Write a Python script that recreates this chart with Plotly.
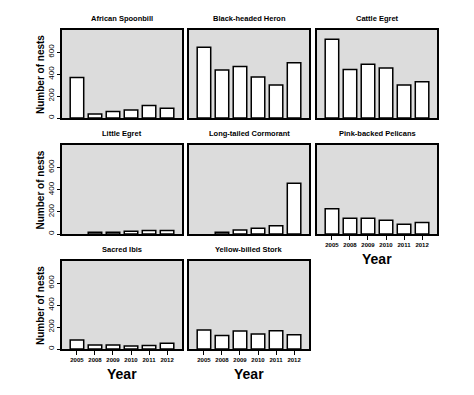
import plotly.graph_objects as go

W, H = 474, 395
OFF = 8  # page body margin offset

years = ["2005", "2008", "2009", "2010", "2011", "2012"]
species = ["African Spoonbill", "Black-headed Heron", "Cattle Egret",
           "Little Egret", "Long-tailed Cormorant", "Pink-backed Pelicans",
           "Sacred Ibis", "Yellow-billed Stork"]
african_spoonbill = [370, 36, 60, 73, 115, 88]
black_headed_heron = [645, 439, 469, 375, 300, 505]
cattle_egret = [718, 443, 491, 457, 300, 330]
little_egret = [None, 15, 15, 25, 32, 32]
long_tailed_cormorant = [None, 15, 36, 52, 75, 457]
pink_backed_pelicans = [227, 141, 141, 124, 88, 103]
sacred_ibis = [82, 36, 36, 27, 33, 52]
yellow_billed_stork = [173, 124, 164, 136, 167, 130]
series = [african_spoonbill, black_headed_heron, cattle_egret, little_egret,
          long_tailed_cormorant, pink_backed_pelicans, sacred_ibis, yellow_billed_stork]
y_ticks = [0, 200, 400, 600]

col_px = [(62, 182), (189, 309), (317, 437)]
row_px = [(30, 118), (145, 234), (261, 349)]
bottom_panels = {5, 6, 7}

FONT = "Liberation Sans"
fig = go.Figure()
layout = {}
annotations = []


def px_x(v):
    return (v - OFF) / W


def px_y(v):
    return 1 - (v - OFF) / H


for i, (name, vals) in enumerate(zip(species, series)):
    r, c = divmod(i, 3)
    n = i + 1
    xa = "x" if n == 1 else f"x{n}"
    ya = "y" if n == 1 else f"y{n}"
    fig.add_trace(go.Bar(
        x=list(range(len(years))), y=vals, xaxis=xa, yaxis=ya,
        marker=dict(color="white", line=dict(color="black", width=1.5)),
        width=0.75, showlegend=False))
    x0, x1 = col_px[c]
    y0, y1 = row_px[r]
    show_x = i in bottom_panels
    layout["xaxis" if n == 1 else f"xaxis{n}"] = dict(
        domain=[px_x(x0), px_x(x1)], anchor=ya, range=[-0.83, 5.83],
        tickvals=list(range(len(years))), ticktext=years,
        showticklabels=show_x, ticks="outside" if show_x else "",
        ticklen=4, tickwidth=1.2, tickcolor="black",
        tickfont=dict(family=FONT, size=6, color="black", weight="bold"),
        showline=True, mirror=True, linecolor="black", linewidth=1.5,
        showgrid=False, zeroline=False, fixedrange=True)
    show_y = c == 0
    layout["yaxis" if n == 1 else f"yaxis{n}"] = dict(
        domain=[px_y(y1), px_y(y0)], anchor=xa, range=[0, 803],
        tickvals=y_ticks, showticklabels=show_y,
        ticks="outside" if show_y else "", ticklen=3, tickwidth=1.2, tickcolor="black",
        tickangle=-90,
        tickfont=dict(family=FONT, size=8, color="black"),
        showline=True, mirror=True, linecolor="black", linewidth=1.5,
        showgrid=False, zeroline=False, fixedrange=True)
    annotations.append(dict(
        text=name, x=px_x((x0 + x1) / 2), y=px_y(y0 - 12), xref="paper", yref="paper",
        showarrow=False, xanchor="center", yanchor="middle",
        font=dict(family=FONT, size=7.5, color="black", weight="bold")))
    if show_x:
        annotations.append(dict(
            text="Year", x=px_x((x0 + x1) / 2), y=px_y(y1 + 25), xref="paper", yref="paper",
            showarrow=False, xanchor="center", yanchor="middle",
            font=dict(family=FONT, size=14, color="black", weight="bold")))
    if show_y:
        annotations.append(dict(
            text="Number of nests", x=px_x(40), y=px_y((y0 + y1) / 2), xref="paper", yref="paper",
            showarrow=False, xanchor="center", yanchor="middle", textangle=-90,
            font=dict(family=FONT, size=10, color="black", weight="bold")))

fig.update_layout(
    **layout,
    annotations=annotations,
    width=W, height=H,
    margin=dict(l=0, r=0, t=0, b=0),
    paper_bgcolor="white", plot_bgcolor="#dcdcdc",
    bargap=0.25,
)
fig.write_html("out.html")
